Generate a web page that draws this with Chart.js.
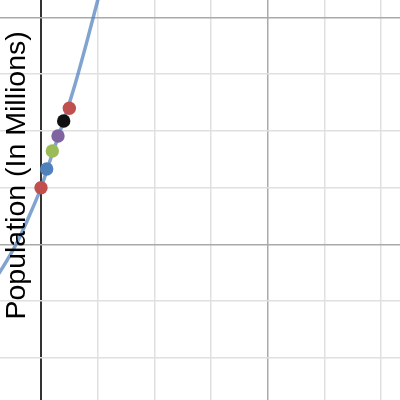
<!DOCTYPE html>
<html>
<head>
<meta charset="utf-8">
<script src="https://cdn.jsdelivr.net/npm/chart.js@4.4.1/dist/chart.umd.min.js"></script>
<style>
    html, body { margin: 0; padding: 0; background: #fff; }
    .wrap { width: 400px; height: 400px; position: relative; }
</style>
</head>
<body>
<div class="wrap"><canvas id="chart"></canvas></div>
<script>
// Observed points (years from start, population in millions)
const dotYears = [0, 1, 2, 3, 4, 5];
const dotPop = [250, 266.5, 282.4, 295.6, 308.8, 320];
const dotColors = ['#c0504d', '#4f81bd', '#9bbb59', '#8064a2', '#111111', '#c0504d'];

// Fitted curve
const curveYears = [-8, -6, -4, -2, 0, 2, 4, 6, 8, 10, 12];
const curvePop = [170, 186, 204, 226, 250, 280, 309, 341, 377, 415, 453];

// Grid lines (no labels shown)
const xTicks = [0, 10, 20, 30, 40, 50, 60];
const yTicks = [100, 150, 200, 250, 300, 350, 400];
const xMajor = 40, yMajor = 200;

const yLabel = 'Population (In Millions)';

const gridColor = (major, axisVal) => ctx => {
    const v = ctx.tick.value;
    if (v === axisVal) return '#333333';
    return Math.abs(v % major) < 1e-9 ? '#aaaaaa' : '#e0e0e0';
};
const gridWidth = (axisVal) => ctx => ctx.tick.value === axisVal ? 2 : 1.5;
const fixedTicks = (values) => scale => {
    scale.ticks = values.map(value => ({ value }));
};

// Axis label drawn inside the plot
const labelPlugin = {
    id: 'yLabel',
    afterDatasetsDraw(chart) {
        const ctx = chart.ctx;
        ctx.save();
        ctx.translate(25, 175.4);
        ctx.rotate(-Math.PI / 2);
        ctx.font = '28.5px "Liberation Sans", Arial, sans-serif';
        ctx.fillStyle = '#000';
        ctx.textAlign = 'center';
        ctx.textBaseline = 'alphabetic';
        ctx.fillText(yLabel, 0, 0);
        ctx.restore();
    }
};

new Chart(document.getElementById('chart'), {
    type: 'scatter',
    data: {
        datasets: [
            {
                label: 'Observed',
                data: dotYears.map((x, i) => ({ x, y: dotPop[i] })),
                backgroundColor: dotColors,
                pointRadius: 6.7,
                pointBorderWidth: 0,
                showLine: false
            },
            {
                label: 'Fit',
                data: curveYears.map((x, i) => ({ x, y: curvePop[i] })),
                borderColor: 'rgba(79, 129, 189, 0.72)',
                borderWidth: 3.5,
                pointRadius: 0,
                showLine: true,
                cubicInterpolationMode: 'monotone'
            }
        ]
    },
    options: {
        responsive: true,
        maintainAspectRatio: false,
        animation: false,
        layout: { padding: 0, autoPadding: false },
        plugins: {
            legend: { display: false },
            tooltip: { enabled: false }
        },
        scales: {
            x: {
                type: 'linear',
                min: -7.235,
                max: 63.35,
                afterBuildTicks: fixedTicks(xTicks),
                ticks: { display: false },
                grid: { drawTicks: false, color: gridColor(xMajor, 0), lineWidth: gridWidth(0) },
                border: { display: false }
            },
            y: {
                type: 'linear',
                min: 63.0,
                max: 415.4,
                afterBuildTicks: fixedTicks(yTicks),
                ticks: { display: false },
                grid: { drawTicks: false, color: gridColor(yMajor, null), lineWidth: gridWidth(null) },
                border: { display: false }
            }
        }
    },
    plugins: [labelPlugin]
});
</script>
</body>
</html>
